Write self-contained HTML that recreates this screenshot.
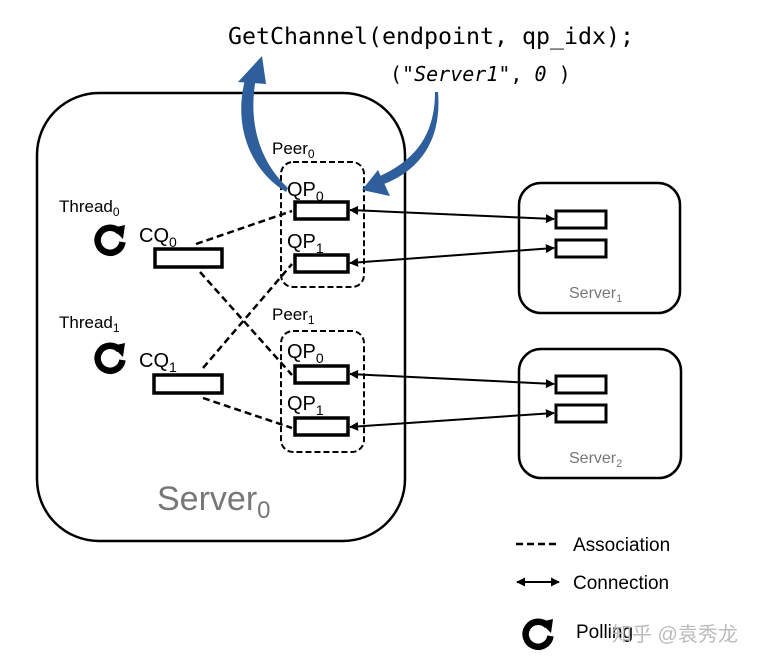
<!DOCTYPE html>
<html><head><meta charset="utf-8"><style>
html,body{margin:0;padding:0;background:#fff;}
svg{display:block;}
text{font-family:"Liberation Sans","DejaVu Sans",sans-serif;}
.m{font-family:"DejaVu Sans Mono","Liberation Mono",monospace;}
</style></head><body>
<svg width="772" height="666" viewBox="0 0 772 666" xmlns="http://www.w3.org/2000/svg">
<defs>
<marker id="ah" viewBox="0 0 10 10" refX="9" refY="5" markerWidth="4.5" markerHeight="4.5" orient="auto-start-reverse"><path d="M0,0 L10,5 L0,10 z" fill="#000"/></marker>
<g id="poll">
<path d="M 9.5,-8 A 12.5 12.5 0 1 0 12.5,2" fill="none" stroke="#000" stroke-width="6.5"/>
<path d="M 2,-12 L 15,-15 L 13,-1 z" fill="#000"/>
</g>
</defs>
<!-- title -->
<text x="228" y="44" class="m" font-size="23" fill="#000" textLength="406" lengthAdjust="spacingAndGlyphs">GetChannel(endpoint, qp_idx);</text>
<text x="390" y="81" class="m" font-size="20" fill="#000">("<tspan font-style="italic">Server1</tspan>",  <tspan font-style="italic">0</tspan> )</text>
<!-- Server0 -->
<rect x="37" y="93" width="368" height="448" rx="62" fill="none" stroke="#000" stroke-width="2.5"/>
<text x="157" y="510" font-size="34" fill="#777">Server<tspan font-size="24" dy="8">0</tspan></text>
<!-- Peers -->
<rect x="281" y="162" width="83" height="125" rx="12" fill="none" stroke="#000" stroke-width="2" stroke-dasharray="6,3"/>
<rect x="281" y="331" width="83" height="121" rx="12" fill="none" stroke="#000" stroke-width="2" stroke-dasharray="6,3"/>
<text x="272" y="154" font-size="17">Peer<tspan font-size="12" dy="4">0</tspan></text>
<text x="272" y="320" font-size="17">Peer<tspan font-size="12" dy="4">1</tspan></text>
<!-- QP labels -->
<text x="287" y="196" font-size="20">QP<tspan font-size="14" dy="5">0</tspan></text>
<text x="287" y="248" font-size="20">QP<tspan font-size="14" dy="5">1</tspan></text>
<text x="287" y="358" font-size="20">QP<tspan font-size="14" dy="5">0</tspan></text>
<text x="287" y="410" font-size="20">QP<tspan font-size="14" dy="5">1</tspan></text>
<!-- dashed associations -->
<g stroke="#000" stroke-width="2.5" stroke-dasharray="7,4" fill="none">
<line x1="196" y1="244" x2="292" y2="211"/>
<line x1="200" y1="272" x2="292" y2="375"/>
<line x1="203" y1="368" x2="292" y2="264"/>
<line x1="203" y1="398" x2="292" y2="428"/>
</g>
<!-- QP rects -->
<g fill="#fff" stroke="#000" stroke-width="3.5">
<rect x="295" y="202" width="53" height="17"/>
<rect x="295" y="255" width="53" height="17"/>
<rect x="295" y="366" width="53" height="17"/>
<rect x="295" y="418" width="53" height="17"/>
<rect x="155" y="249" width="67" height="18"/>
<rect x="154" y="375" width="68" height="18"/>
</g>
<!-- threads -->
<text x="59" y="212" font-size="17">Thread<tspan font-size="12" dy="4">0</tspan></text>
<text x="59" y="328" font-size="17">Thread<tspan font-size="12" dy="4">1</tspan></text>
<use href="#poll" x="110" y="240"/>
<use href="#poll" x="110" y="358"/>
<text x="139" y="242" font-size="20">CQ<tspan font-size="14" dy="5">0</tspan></text>
<text x="139" y="367" font-size="20">CQ<tspan font-size="14" dy="5">1</tspan></text>
<!-- Server1/2 -->
<rect x="519" y="183" width="161" height="130" rx="22" fill="none" stroke="#000" stroke-width="2.5"/>
<rect x="519" y="349" width="162" height="129" rx="22" fill="none" stroke="#000" stroke-width="2.5"/>
<g fill="#fff" stroke="#000" stroke-width="3">
<rect x="556" y="211" width="50" height="17"/>
<rect x="556" y="240" width="50" height="17"/>
<rect x="556" y="376" width="50" height="17"/>
<rect x="556" y="405" width="50" height="17"/>
</g>
<text x="569" y="298" font-size="16" fill="#777">Server<tspan font-size="11" dy="4">1</tspan></text>
<text x="569" y="463" font-size="16" fill="#777">Server<tspan font-size="11" dy="4">2</tspan></text>
<!-- connections -->
<g stroke="#000" stroke-width="2" marker-start="url(#ah)" marker-end="url(#ah)">
<line x1="350" y1="210" x2="554" y2="219"/>
<line x1="350" y1="263" x2="554" y2="248"/>
<line x1="350" y1="374" x2="554" y2="384"/>
<line x1="350" y1="427" x2="554" y2="413"/>
</g>
<!-- blue arrows -->
<path d="M 286,192 C 250,170 232,125 246,76 L 256,78 C 248,120 258,160 288,188 z" fill="#2e5e9c"/>
<path d="M 238,82 L 262,56 L 266,84 z" fill="#2e5e9c"/>
<path d="M 438,92 C 442,140 420,170 384,184 L 380,176 C 415,160 435,135 435,92 z" fill="#2e5e9c"/>
<path d="M 362,190 L 378,170 L 390,196 z" fill="#2e5e9c"/>
<!-- legend -->
<line x1="516" y1="544" x2="560" y2="544" stroke="#000" stroke-width="2.5" stroke-dasharray="7,4"/>
<text x="573" y="551" font-size="19">Association</text>
<line x1="517" y1="582" x2="559" y2="582" stroke="#000" stroke-width="2" marker-start="url(#ah)" marker-end="url(#ah)"/>
<text x="573" y="589" font-size="19">Connection</text>
<use href="#poll" x="538" y="634"/>
<text x="576" y="638" font-size="19">Polling</text>
<text x="612" y="641" font-size="20" fill="#bbb" font-family="'Liberation Sans','Noto Sans CJK SC',sans-serif">知乎 @袁秀龙</text>
</svg>
</body></html>
